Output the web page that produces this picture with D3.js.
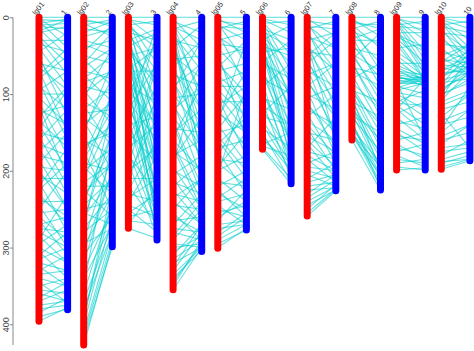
<!DOCTYPE html>
<html>
<head>
<meta charset="utf-8">
<script src="https://cdnjs.cloudflare.com/ajax/libs/d3/7.8.5/d3.min.js"></script>
<style>
   body { margin: 0; background: #fff; }
   svg { display: block; font-family: "Liberation Sans", Arial, sans-serif; }
</style>
</head>
<body>
<div id="chart"></div>
<script>
//linkage groups (red) vs chromosomes (blue)
var lgNames = ["lg01", "lg02", "lg03", "lg04", "lg05", "lg06", "lg07", "lg08", "lg09", "lg10"];
var chrNames = ["1", "2", "3", "4", "5", "6", "7", "8", "9", "10"];
var lgLengths = [396, 427, 275, 355, 301, 172, 259, 160, 199, 198];
var chrLengths = [381, 299, 290, 305, 277, 217, 226, 225, 199, 187];
var yTicks = [0, 100, 200, 300, 400];

//marker links: [position on lg, position on chromosome]
var links1 = [[0,0],[3,5],[8,2],[12,15],[5,40],[20,12],[25,60],[30,30],[40,90],[45,20],[55,110],[60,70],[70,150],[80,50],[90,120],[100,100],[110,180],[120,140],[130,90],[140,200],[150,160],[160,120],[170,230],[180,190],[190,150],[200,250],[210,210],[220,170],[230,270],[240,240],[250,200],[260,290],[270,260],[280,300],[290,230],[300,320],[310,280],[320,330],[330,310],[340,350],[350,340],[360,370],[370,355],[380,375],[390,380],[396,378],[345,372],[385,365],
   [2,25],[10,8],[15,50],[18,3],[28,75],[35,45],[50,130],[65,95],[75,40],[85,160],[95,70],[105,140],[115,210],[125,115],[135,170],[145,95],[155,220],[165,180],[175,140],[185,250],[195,200],[205,230],[215,280],[225,190],[235,260],[245,300],[255,250],[265,310],[275,280],[285,320],[295,270],[305,340],[315,300],[325,350],[335,330],[355,360],[365,345],[375,370]];
var links2 = [[0,0],[5,8],[10,3],[15,20],[25,15],[30,40],[40,30],[50,60],[60,20],[70,80],[80,50],[90,100],[100,70],[110,130],[120,90],[130,160],[140,110],[150,60],[160,180],[170,140],[180,100],[190,200],[200,170],[210,130],[220,220],[230,190],[240,150],[250,240],[260,210],[270,120],[280,250],[290,180],[300,230],[310,260],[320,200],[340,270],[360,240],[380,280],[400,260],[415,290],[427,295],[350,160],[395,220],
   [2,12],[8,25],[20,5],[35,50],[45,10],[55,90],[65,40],[75,110],[85,70],[95,140],[105,40],[115,170],[125,120],[135,200],[145,80],[155,230],[165,150],[175,250],[185,120],[195,230],[205,100],[215,190],[225,260],[235,170],[245,210],[255,270],[265,150],[275,230],[295,275],[305,200],[330,250],[370,270],[390,240],[410,280],[420,299]];
var links3 = [[0,0],[3,10],[6,60],[10,5],[15,120],[20,30],[25,180],[30,15],[40,90],[45,240],[50,40],[60,150],[65,270],[70,70],[80,200],[85,290],[90,110],[100,30],[105,250],[110,160],[120,60],[125,220],[130,280],[140,130],[150,190],[155,90],[160,260],[170,140],[180,230],[185,50],[190,285],[200,170],[210,210],[215,100],[220,270],[230,240],[240,180],[250,280],[260,250],[270,220],[275,288],[120,10],[60,200],[35,140],
   [2,30],[5,90],[8,150],[12,40],[18,200],[22,70],[28,260],[33,110],[38,20],[42,190],[48,80],[55,230],[58,120],[68,40],[75,170],[88,260],[95,140],[115,200],[135,240],[145,20],[165,110],[175,270],[195,60],[205,130],[225,160],[235,210],[245,260],[255,230],[265,270]];
var links4 = [[0,0],[5,20],[10,60],[15,5],[20,100],[30,40],[35,140],[40,10],[50,80],[60,170],[65,30],[70,120],[80,190],[90,60],[100,150],[110,210],[120,90],[130,180],[140,230],[150,120],[160,200],[170,250],[180,160],[190,70],[200,220],[210,260],[220,190],[230,240],[240,270],[250,210],[260,280],[270,230],[280,290],[290,250],[300,295],[310,270],[320,300],[330,280],[340,303],[350,290],[355,300],[25,180],[95,30],
   [2,40],[8,110],[12,30],[18,160],[22,70],[28,200],[45,120],[55,50],[75,90],[85,140],[105,100],[115,170],[125,60],[135,220],[145,150],[155,90],[165,240],[175,200],[185,130],[195,250],[205,180],[215,230],[225,270],[235,210],[245,250],[255,290],[265,260],[275,280],[285,240],[295,300],[305,285],[315,290],[325,270],[335,300],[345,295]];
var links5 = [[0,0],[5,10],[10,30],[15,5],[25,50],[30,20],[40,80],[50,40],[60,100],[70,60],[80,130],[90,90],[100,150],[110,110],[120,170],[130,70],[140,190],[150,140],[160,210],[170,160],[180,120],[190,220],[200,180],[210,240],[220,200],[230,250],[240,230],[250,260],[260,240],[270,265],[280,255],[290,270],[300,275],[45,160],[135,30],[205,90],
   [2,20],[8,60],[12,15],[20,90],[35,40],[55,120],[65,30],[75,110],[85,70],[95,130],[105,180],[115,90],[125,150],[145,100],[155,200],[165,130],[175,230],[185,190],[195,150],[215,220],[225,260],[235,210],[245,270],[255,245],[265,225],[275,270],[285,260],[295,277]];
var links6 = [[0,0],[3,20],[5,50],[8,5],[10,90],[15,30],[20,130],[25,60],[30,10],[35,100],[40,160],[45,40],[50,120],[60,80],[65,180],[70,140],[80,100],[85,200],[90,60],[100,160],[105,120],[110,210],[120,180],[125,90],[130,140],[140,200],[145,170],[150,215],[160,190],[165,150],[170,210],[172,217],
   [2,10],[6,70],[12,110],[18,40],[22,150],[28,80],[33,190],[38,50],[42,120],[48,170],[55,100],[58,30],[75,160],[95,190],[115,140],[135,190],[155,200],[168,180]];
var links7 = [[0,0],[5,10],[10,40],[15,5],[20,70],[30,20],[40,100],[45,50],[55,130],[60,30],[70,90],[80,150],[90,60],[100,120],[110,170],[120,140],[130,100],[140,180],[150,160],[160,195],[170,130],[180,200],[190,175],[200,210],[210,190],[220,215],[230,205],[240,220],[250,218],[255,224],[259,226],[35,160],
   [2,25],[8,60],[12,15],[18,90],[25,40],[33,120],[38,70],[50,20],[58,110],[65,160],[75,60],[85,130],[95,180],[105,90],[115,150],[125,190],[135,160],[145,200],[155,175],[165,210],[175,185],[185,215],[195,200],[205,220],[215,205],[225,222],[235,212],[245,225]];
var links8 = [[0,0],[5,15],[10,40],[15,5],[20,60],[30,30],[35,80],[40,50],[50,100],[55,20],[60,120],[70,90],[75,140],[80,60],[90,150],[95,110],[100,170],[110,130],[115,185],[120,160],[125,200],[130,175],[140,210],[145,190],[150,220],[155,205],[160,225],[105,200],[135,222],
   [2,25],[8,10],[12,70],[18,35],[25,90],[28,15],[45,110],[48,70],[58,130],[65,75],[85,120],[92,165],[98,140],[108,180],[118,195],[128,150],[138,205],[148,215],[152,195]];
var links9 = [[0,0],[2,10],[4,30],[6,55],[10,5],[15,70],[20,20],[25,45],[30,80],[40,35],[50,78],[60,60],[65,82],[70,75],[75,80],[78,85],[80,78],[82,88],[85,83],[88,76],[90,100],[95,86],[100,120],[110,95],[115,140],[125,110],[130,160],[140,130],[150,175],[160,150],[165,185],[175,165],[180,195],[190,185],[195,199],[199,196],[85,160],[120,80],
   [1,20],[3,45],[8,65],[12,15],[18,75],[22,40],[28,60],[35,82],[45,70],[55,85],[62,78],[68,88],[72,79],[76,90],[79,82],[83,80],[86,87],[92,80],[98,105],[105,130],[112,115],[120,150],[135,145],[145,165],[155,160],[170,180],[185,190]];
var links10 = [[0,0],[3,15],[6,40],[10,5],[15,60],[20,25],[30,50],[40,70],[50,35],[55,60],[60,45],[65,75],[70,55],[75,65],[80,40],[85,80],[90,60],[95,70],[100,85],[105,50],[110,95],[120,110],[130,100],[140,130],[150,120],[160,150],[165,140],[170,165],[180,160],[185,175],[190,180],[195,185],[198,187],[125,170],[145,90],
   [1,8],[4,30],[8,50],[12,20],[18,45],[25,65],[35,40],[45,55],[52,75],[58,35],[62,65],[68,50],[72,70],[78,58],[82,72],[88,45],[92,75],[98,62],[102,80],[108,70],[115,100],[135,120],[155,140],[175,170],[188,185]];

var allLinks = [links1, links2, links3, links4, links5, links6, links7, links8, links9, links10];

function main() {
   drawMap();
}

function drawMap() {
   var width = 474,
       height = 351;

   var svg = d3.select("#chart").append("svg")
       .attr("width", width)
       .attr("height", height);

   var y = d3.scaleLinear()
       .domain([0, 400])
       .range([17.3, 324.3]);

   //one band per pair: red bar at band start, blue bar at band end
   var x = d3.scaleBand()
       .domain(d3.range(10))
       .range([39, 469.9])
       .paddingInner(0.36)
       .paddingOuter(0);

   //links first so the bars sit on top
   var linkData = [];
   allLinks.forEach(function(links, i) {
      links.forEach(function(l) {
         linkData.push({pair: i, lg: l[0], chr: l[1]});
      });
   });

   svg.append("g")
      .attr("class", "links")
      .selectAll("line")
      .data(linkData)
      .enter().append("line")
         .attr("x1", function(d) { return x(d.pair); })
         .attr("x2", function(d) { return x(d.pair) + x.bandwidth(); })
         .attr("y1", function(d) { return y(d.lg); })
         .attr("y2", function(d) { return y(d.chr); })
         .attr("stroke", "#00CDCD")
         .attr("stroke-opacity", 0.6)
         .attr("stroke-width", 1.1);

   //red linkage groups
   svg.append("g").selectAll("line")
      .data(lgLengths)
      .enter().append("line")
         .attr("x1", function(d, i) { return x(i); })
         .attr("x2", function(d, i) { return x(i); })
         .attr("y1", y(0))
         .attr("y2", function(d) { return y(d); })
         .attr("stroke", "#FF0000")
         .attr("stroke-width", 7)
         .attr("stroke-linecap", "round");

   //blue chromosomes
   svg.append("g").selectAll("line")
      .data(chrLengths)
      .enter().append("line")
         .attr("x1", function(d, i) { return x(i) + x.bandwidth(); })
         .attr("x2", function(d, i) { return x(i) + x.bandwidth(); })
         .attr("y1", y(0))
         .attr("y2", function(d) { return y(d); })
         .attr("stroke", "#0000FF")
         .attr("stroke-width", 7)
         .attr("stroke-linecap", "round");

   //rotated names on top
   var names = [];
   lgNames.forEach(function(n, i) {
      names.push({name: n, x: x(i)});
      names.push({name: chrNames[i], x: x(i) + x.bandwidth()});
   });

   svg.append("g").selectAll("text")
      .data(names)
      .enter().append("text")
         .attr("transform", function(d) {
            return "translate(" + (d.x - 3) + ",15.5) rotate(-52)";
         })
         .attr("font-size", 7.5)
         .attr("fill", "#333")
         .text(function(d) { return d.name; });

   //y axis
   var yAxis = d3.axisLeft()
      .scale(y)
      .tickValues(yTicks)
      .tickSize(3)
      .tickSizeOuter(0);

   var axisG = svg.append("g")
      .attr("class", "y axis")
      .attr("transform", "translate(13,0)")
      .call(yAxis);

   axisG.select(".domain")
      .attr("d", "M0," + y(0) + "V" + y(d3.max(lgLengths)))
      .attr("stroke", "#888");

   axisG.selectAll(".tick line")
      .attr("stroke", "#888");

   axisG.selectAll(".tick text")
      .attr("x", 0)
      .attr("y", 0)
      .attr("transform", "translate(-7,0) rotate(-90)")
      .attr("text-anchor", "middle")
      .attr("font-size", 9)
      .attr("fill", "#444");
}

main();
</script>
</body>
</html>
